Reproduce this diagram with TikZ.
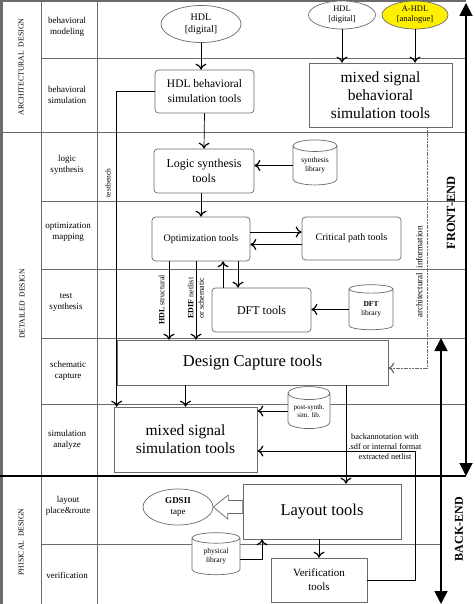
\documentclass[tikz,border=0pt]{standalone}
\usepackage{fontspec}
\setmainfont{Liberation Serif}
\usetikzlibrary{arrows.meta,shapes.geometric,calc,positioning}
\definecolor{linegray}{gray}{0.42}
\definecolor{hdlyellow}{RGB}{255,240,0}
\newcommand{\fs}[2]{\fontsize{#1}{#2}\selectfont}
\begin{document}
\begin{tikzpicture}[x=1pt,y=-1pt,
  grid/.style={draw=linegray, line width=0.6pt},
  tool/.style={draw=linegray, line width=0.7pt, fill=white, rounded corners=3.5pt,
    align=center, inner sep=0pt},
  block/.style={draw=linegray, line width=0.7pt, fill=white, align=center, inner sep=0pt},
  lib/.style={cylinder, shape border rotate=90, aspect=0.42, draw=linegray,
    line width=0.7pt, fill=white, align=center, inner sep=0pt},
  lang/.style={ellipse, draw=linegray, line width=0.7pt, fill=white, align=center,
    inner sep=0pt},
  rowlabel/.style={align=center, font=\fs{9}{11}},
  stage/.style={rotate=90, font=\fs{7.7}{9}},
  flow/.style={line width=0.7pt, -{Computer Modern Rightarrow[length=6pt,width=11pt,line width=1.2pt]}},
  span/.style={line width=1.8pt, {Triangle[length=13pt,width=13pt]}-{Triangle[length=13pt,width=13pt]}}
  ]
  \useasboundingbox (0,0) rectangle (474,604);
  \draw[grid] (41,0) -- (41,604) (97,0) -- (97,604);
  \draw[grid] (0,132) -- (466,132);
  \foreach \y in {58,201,269,338,404} \draw[grid] (41,\y) -- (466,\y);
  \draw[grid] (41,544) -- (440,544);
  \draw[linegray, line width=2.5pt] (0,1) -- (466,1);
  \draw[linegray, line width=3pt] (1.5,0) -- (1.5,604);
  \draw[line width=1.8pt] (0,476) -- (466,476);

  \node[stage] (arch) at (21,67) {ARCHITECTURAL\ \ DESIGN};
  \node[stage] (detail) at (22,304) {DETAILED\ \ DESIGN};
  \node[stage] (phys) at (21,542) {PHISICAL\ \ DESIGN};

  \node[rowlabel] (r1) at (67,27) {behavioral\\modeling};
  \node[rowlabel] (r2) at (67,95) {behavioral\\simulation};
  \node[rowlabel] (r3) at (67,165) {logic\\synthesis};
  \node[rowlabel] (r4) at (68,232) {optimization\\mapping};
  \node[rowlabel] (r5) at (66,302) {test\\synthesis};
  \node[rowlabel] (r6) at (68,371) {schematic\\capture};
  \node[rowlabel] (r7) at (67,440) {simulation\\analyze};
  \node[rowlabel] (r8) at (68,506) {layout\\place\&route};
  \node[rowlabel] (r9) at (67,575) {verification};

  \node[lang, minimum width=80pt, minimum height=37pt, font=\fs{10}{12}] (hdl) at (201,24) {HDL\\{[digital]}};
  \node[lang, minimum width=67pt, minimum height=28pt, font=\fs{8.5}{10}] (hdlmix) at (342,15) {HDL\\{[digital]}};
  \node[lang, fill=hdlyellow, minimum width=66pt, minimum height=28pt, font=\fs{8.5}{10}] (ahdl) at (415,15) {A-HDL\\{[analogue]}};

  \node[tool, minimum width=99pt, minimum height=43pt, font=\fs{11.5}{15}] (behsim) at (204.5,91.5) {HDL behavioral\\simulation tools};
  \node[block, minimum width=143pt, minimum height=64pt, font=\fs{15.5}{18}] (msbeh) at (380.5,95) {mixed signal\\behavioral\\simulation tools};
  \node[tool, minimum width=100pt, minimum height=44pt, font=\fs{12}{15}] (logsyn) at (204,171) {Logic synthesis\\tools};
  \node[lib, minimum width=44pt, minimum height=45pt, font=\fs{7.5}{9}] (synlib) at (315,165.5) {synthesis\\library};
  \node[tool, minimum width=98pt, minimum height=44pt, font=\fs{10}{12}] (opt) at (201,239) {Optimization tools};
  \node[tool, minimum width=99pt, minimum height=43pt, font=\fs{10}{12}] (crit) at (351.5,238.5) {Critical path tools};
  \node[tool, minimum width=99pt, minimum height=44pt, font=\fs{12}{14}] (dft) at (261.5,310) {DFT tools};
  \node[lib, minimum width=44pt, minimum height=45pt, font=\fs{7.5}{9}] (dftlib) at (371,309.5) {\textbf{DFT}\\library};
  \node[block, minimum width=271pt, minimum height=45pt, font=\fs{16.5}{20}] (capture) at (252.5,362.5) {Design Capture tools};
  \node[block, minimum width=143pt, minimum height=65pt, font=\fs{15.5}{18}] (mssim) at (185.5,439.5) {mixed signal\\simulation tools};
  \node[lib, minimum width=42pt, minimum height=42pt, font=\fs{7}{8.5}] (postlib) at (309,411) {post-synth.\\sim. lib.};
  \node[lang, minimum width=70pt, minimum height=36pt, font=\fs{9}{11}] (gds) at (178,507) {\textbf{GDSII}\\tape};
  \node[block, minimum width=158pt, minimum height=55pt, font=\fs{16.5}{20}] (layout) at (322,511.5) {Layout tools};
  \node[lib, minimum width=48pt, minimum height=42pt, font=\fs{7.5}{9}] (phylib) at (216,556.5) {physical\\library};
  \node[block, minimum width=96pt, minimum height=44pt, font=\fs{11}{14}] (verif) at (319,580) {Verification\\tools};

  \draw[flow] (hdl.south) -- (hdl.south |- behsim.north);
  \draw[flow] (hdlmix.south) -- (hdlmix.south |- msbeh.north);
  \draw[flow] (ahdl.south) -- (ahdl.south |- msbeh.north);
  \draw[flow] (behsim.south) -- (logsyn.north);
  \draw[flow] (behsim.west) -| ([xshift=3pt]mssim.north west);
  \node[rotate=90, font=\fs{7.5}{8}] (tb) at (108,183) {testbench};
  \draw[flow] (synlib.west) -- (synlib.west -| logsyn.east);
  \draw[flow] (opt.north |- logsyn.south) -- (opt.north);
  \draw[flow] ([yshift=7pt]opt.east) -- ([yshift=7pt]opt.east -| crit.west);
  \draw[flow] ([yshift=-6pt]crit.west) -- ([yshift=-6pt]crit.west -| opt.east);
  \draw[flow] ([xshift=-32pt]opt.south) -- ([xshift=-32pt]opt.south |- capture.north);
  \draw[flow] ([xshift=-5pt]opt.south) -- ([xshift=-5pt]opt.south |- capture.north);
  \node[rotate=90, anchor=south, font=\fs{8}{9}] (hdlstr) at (168,300) {\textbf{HDL} structural};
  \node[rotate=90, align=center, font=\fs{8}{10.5}] (edif) at (196,298) {\textbf{EDIF} netlist\\or schematic};
  \draw[flow] ([xshift=-38.5pt]dft.north) -- ([xshift=-38.5pt]dft.north |- opt.south);
  \draw[flow] ([xshift=-23.5pt]dft.north |- opt.south) -- ([xshift=-23.5pt]dft.north);
  \draw[flow] (dftlib.west) -- (dftlib.west -| dft.east);
  \draw[flow, dash pattern=on 2pt off 0.7pt, linegray] ([xshift=46.5pt]msbeh.south) |- ([yshift=-5.5pt]capture.east);
  \node[rotate=90, anchor=south, font=\fs{9}{10}] (archinfo) at (426,272) {architectural\ \ information};
  \draw[flow] (capture.south -| mssim.north) -- (mssim.north);
  \draw[flow] ([xshift=93.5pt]capture.south) -- ([xshift=93.5pt]capture.south |- layout.north);
  \draw[flow] (postlib.west) -- (postlib.west -| mssim.east);
  \coordinate (backturn) at (415,451);
  \draw[flow] (verif.east) -| (backturn) -- (backturn -| mssim.east);
  \node[align=center, font=\fs{8.3}{10}] (backnote) at (385,447) {backannotation with\\.sdf or internal format\\extracted netlist};
  \draw[line width=0.7pt, draw=linegray, fill=white] (gds.east) -- ++(15,-12) -- ++(0,5.5)
    -- ($(gds.east -| layout.west)+(0,-6.5)$) -- ++(0,13) -- ++(-15,0) -- ++(0,5.5) -- cycle;
  \draw[flow] ([yshift=-2.5pt]phylib.east) -| ([xshift=-60pt]layout.south);
  \draw[flow] (verif.north |- layout.south) -- (verif.north);

  \draw[span] (466,3) -- (466,476);
  \draw[span] (441,338) -- (441,604);
  \node[rotate=90, font=\bfseries\fs{12.5}{14}] (front) at (451,213) {FRONT-END};
  \node[rotate=90, font=\bfseries\fs{12}{14}] (back) at (459,529) {BACK-END};
\end{tikzpicture}
\end{document}
